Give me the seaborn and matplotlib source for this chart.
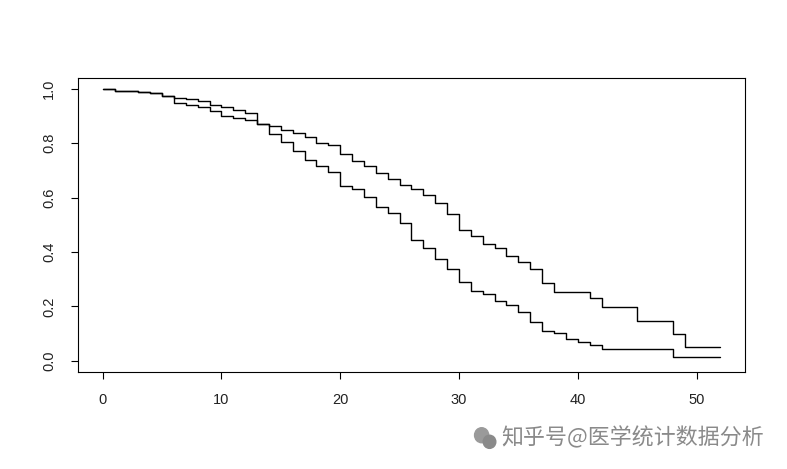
import numpy as np
import pandas as pd
import seaborn as sns
import matplotlib.pyplot as plt
from matplotlib.patches import Ellipse

# step times and survival values
times_a = [0, 1, 2, 3, 4, 5, 6, 7, 8, 9, 10, 11, 12, 13, 14, 15, 16, 17, 18, 19,
           20, 21, 22, 23, 24, 25, 26, 27, 28, 29, 30, 31, 32, 33, 34, 35, 36, 37,
           38, 41, 42, 45, 48, 49, 52]
surv_a = [1.0, 0.993, 0.991, 0.988, 0.985, 0.975, 0.967, 0.964, 0.956, 0.942,
          0.933, 0.922, 0.912, 0.872, 0.862, 0.847, 0.838, 0.823, 0.801, 0.795,
          0.760, 0.733, 0.717, 0.690, 0.668, 0.647, 0.631, 0.610, 0.579, 0.540,
          0.481, 0.458, 0.431, 0.415, 0.386, 0.363, 0.339, 0.287, 0.254, 0.232,
          0.197, 0.148, 0.099, 0.052, 0.052]

times_b = [0, 1, 2, 3, 4, 5, 6, 7, 8, 9, 10, 11, 12, 13, 14, 15, 16, 17, 18, 19,
           20, 21, 22, 23, 24, 25, 26, 27, 28, 29, 30, 31, 32, 33, 34, 35, 36, 37,
           38, 39, 40, 41, 42, 48, 52]
surv_b = [1.0, 0.993, 0.991, 0.988, 0.985, 0.972, 0.948, 0.942, 0.935, 0.919,
          0.902, 0.893, 0.884, 0.872, 0.834, 0.805, 0.773, 0.739, 0.717, 0.696,
          0.641, 0.631, 0.601, 0.567, 0.542, 0.505, 0.444, 0.415, 0.376, 0.339,
          0.289, 0.256, 0.244, 0.219, 0.207, 0.179, 0.144, 0.111, 0.104, 0.080,
          0.070, 0.058, 0.043, 0.015, 0.015]

x_ticks = [0, 10, 20, 30, 40, 50]
y_ticks = [0.0, 0.2, 0.4, 0.6, 0.8, 1.0]

df = pd.concat([
    pd.DataFrame({'time': times_a, 'surv': surv_a, 'group': 'a'}),
    pd.DataFrame({'time': times_b, 'surv': surv_b, 'group': 'b'}),
])

sns.set_style('white')
plt.rcParams['font.family'] = ['Liberation Sans', 'DejaVu Sans']

fig = plt.figure(figsize=(7.87, 4.69), dpi=100)
ax = fig.add_axes([0.0991, 0.2075, 0.8475, 0.6262])

sns.lineplot(data=df, x='time', y='surv', hue='group', palette=['black', 'black'],
             drawstyle='steps-post', linewidth=1.0, legend=False, ax=ax,
             estimator=None, sort=False)

ax.set_xlim(-2.08, 54.08)
ax.set_ylim(-0.04, 1.04)
ax.set_xticks(x_ticks)
ax.set_xticklabels([str(t) for t in x_ticks])
ax.set_yticks(y_ticks)
ax.set_yticklabels(['%.1f' % v for v in y_ticks], rotation=90, va='center')
ax.set_xlabel('')
ax.set_ylabel('')
ax.tick_params(axis='both', direction='out', length=5.2, width=0.8, color='black',
               labelsize=10.5, labelcolor='#222222', pad=10.5, bottom=True, left=True)
for s in ax.spines.values():
    s.set_color('black')
    s.set_linewidth(0.8)

# watermark
fig.text(0.637, 0.066, '知乎号@医学统计数据分析', fontsize=15.8, color='#8a8a8a',
         family=['Noto Sans CJK SC', 'DejaVu Sans'], ha='left', va='center')
fig.patches.append(Ellipse((0.612, 0.072), 0.018, 0.032, transform=fig.transFigure,
                           color='#9a9a9a'))
fig.patches.append(Ellipse((0.622, 0.058), 0.016, 0.028, transform=fig.transFigure,
                           color='#8a8a8a'))

fig.savefig('out.png', dpi=100)
